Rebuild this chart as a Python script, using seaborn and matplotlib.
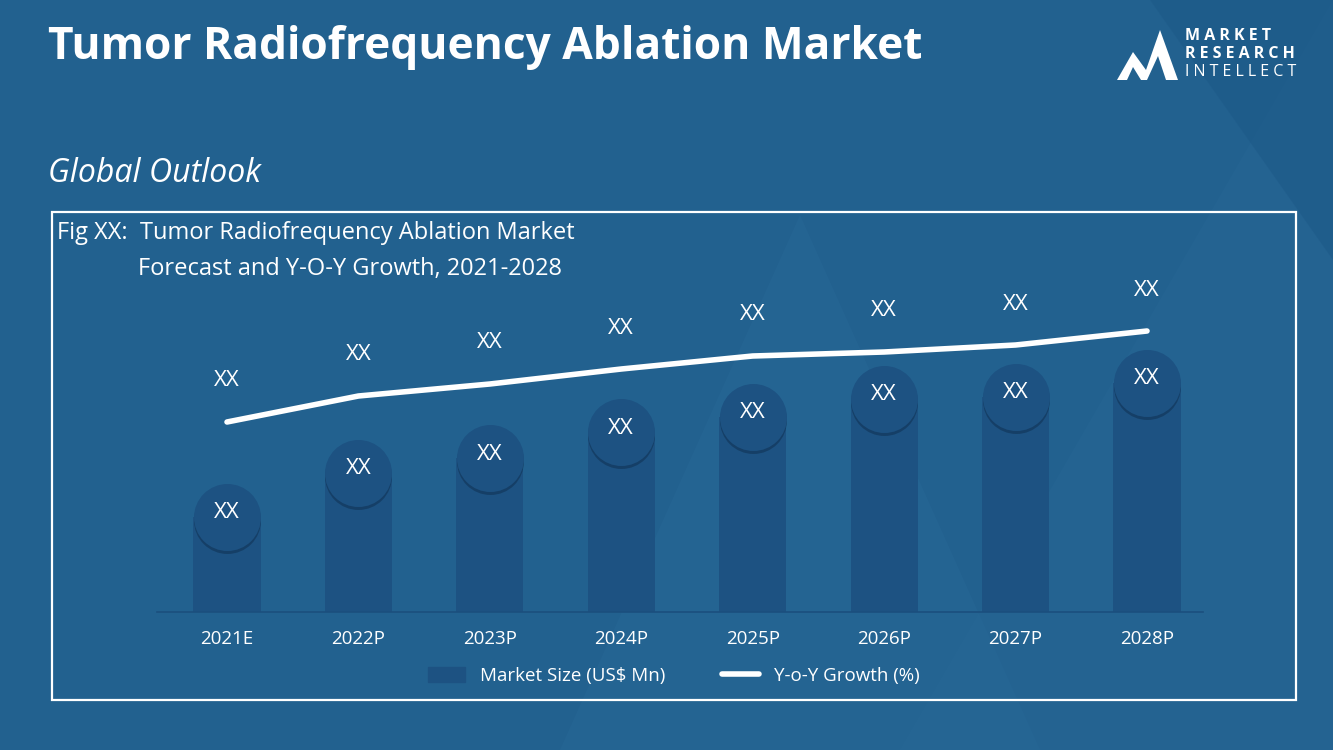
import numpy as np
import matplotlib
matplotlib.use("Agg")
import matplotlib.pyplot as plt
import seaborn as sns
from matplotlib.patches import Polygon, Rectangle
from matplotlib.lines import Line2D
from matplotlib.patches import Patch

# ---- data ----
years = ["2021E", "2022P", "2023P", "2024P", "2025P", "2026P", "2027P", "2028P"]
market_size = [95, 139, 154, 180, 195, 213, 215, 229]
yoy_growth = [190, 216, 228, 243, 256, 260, 267, 281]
bar_labels = ["XX"] * 8
line_labels = ["XX"] * 8

BG = "#22618f"
BAR = "#1d5282"
W, H = 1333, 750

sns.set_theme(style="white")
plt.rcParams["font.family"] = ["Open Sans", "DejaVu Sans"]

fig = plt.figure(figsize=(W / 100, H / 100), dpi=100)
fig.patch.set_facecolor(BG)

# background overlay in pixel coordinates
bg = fig.add_axes([0, 0, 1, 1], zorder=0)
bg.set_xlim(0, W)
bg.set_ylim(H, 0)
bg.axis("off")
bg.add_patch(Polygon([(560, 750), (800, 215), (1040, 750)], closed=True, color="#2a6a99", alpha=0.35, lw=0))
bg.add_patch(Polygon([(900, 750), (1333, 0), (1333, 750)], closed=True, color="#2a6a99", alpha=0.25, lw=0))
bg.add_patch(Polygon([(1150, 0), (1333, 0), (1333, 260)], closed=True, color="#1c5887", alpha=0.5, lw=0))

# titles
bg.text(48, 47, "Tumor Radiofrequency Ablation Market", color="white", fontsize=31.9,
        fontweight="bold", va="center", ha="left", family=["Open Sans", "DejaVu Sans"])
bg.text(48, 174, "Global Outlook", color="white", fontsize=23, fontstyle="italic",
        va="center", ha="left", family=["Open Sans", "DejaVu Sans"])

# frame
bg.add_patch(Rectangle((52, 212), 1244, 488, fill=False, ec="white", lw=1.6))
bg.text(57, 233, "Fig XX:  Tumor Radiofrequency Ablation Market", color="white", fontsize=17,
        va="center", ha="left")
bg.text(138, 269, "Forecast and Y-O-Y Growth, 2021-2028", color="white", fontsize=17,
        va="center", ha="left")

# logo
bg.add_patch(Polygon([(1117, 80), (1133, 52), (1146, 70), (1160, 30), (1178, 80),
                      (1166, 80), (1158, 56), (1147, 80), (1141, 80), (1133, 67), (1127, 80)],
                     closed=True, color="white", lw=0))
bg.text(1185, 36, "M A R K E T", color="white", fontsize=11.5, fontweight="bold", va="center", ha="left")
bg.text(1185, 54, "R E S E A R C H", color="white", fontsize=11.5, fontweight="bold", va="center", ha="left")
bg.text(1185, 72, "I N T E L L E C T", color="white", fontsize=11.5, va="center", ha="left")

# main chart axes
x0, x1, yb, yt = 157, 1203, 612, 290
ax = fig.add_axes([x0 / W, 1 - yb / H, (x1 - x0) / W, (yb - yt) / H], zorder=2)
ax.set_facecolor("none")
xs = np.arange(len(years))
sns.barplot(x=years, y=market_size, color=BAR, width=0.51, saturation=1, ax=ax, zorder=2,
            edgecolor="none", linewidth=0)
scale = 131.43
ax.set_xlim((x0 - 227) / scale, (x1 - 227) / scale)
ax.set_ylim(0, yb - yt)

# circles on bar tops
s = (67 * 0.72) ** 2
ax.scatter(xs, np.array(market_size) - 3, s=s, color="#0e2e4d", alpha=0.5, lw=0, zorder=3)
ax.scatter(xs, market_size, s=s, color=BAR, lw=0, zorder=4)
for xi, v, t in zip(xs, market_size, bar_labels):
    ax.text(xi, v + 4, t, color="white", fontsize=16, ha="center", va="center", zorder=5)

sns.lineplot(x=xs, y=yoy_growth, color="white", lw=4, ax=ax, zorder=6)
for xi, v, t in zip(xs, yoy_growth, line_labels):
    ax.text(xi, v + 41, t, color="white", fontsize=16, ha="center", va="center", zorder=6)

for sp in ["top", "right", "left"]:
    ax.spines[sp].set_visible(False)
ax.spines["bottom"].set_color("#1b4f7e")
ax.spines["bottom"].set_linewidth(1.2)
ax.set_yticks([])
ax.set_xlabel("")
ax.set_ylabel("")
ax.tick_params(axis="x", colors="white", labelsize=13.5, length=0, pad=13)
for lab in ax.get_xticklabels():
    lab.set_color("white")

handles = [Patch(color=BAR, label="Market Size (US$ Mn)"),
           Line2D([0], [0], color="white", lw=4, label="Y-o-Y Growth (%)")]
leg = fig.legend(handles=handles, loc="center", bbox_to_anchor=(674 / W, 1 - 676 / H), ncol=2,
                 frameon=False, fontsize=13.5, labelcolor="white", handlelength=2.0,
                 handleheight=0.8, columnspacing=3.0, handletextpad=0.8)

fig.savefig("out.png", dpi=100, facecolor=BG)
